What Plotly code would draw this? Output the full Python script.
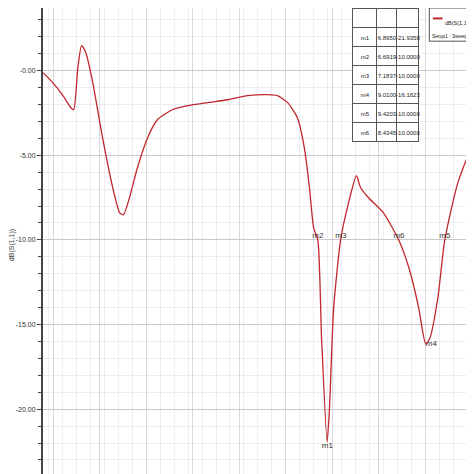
import plotly.graph_objects as go

# curve samples (GHz, dB)
freq = [0.78, 0.99, 1.21, 1.38, 1.44, 1.53, 1.61, 1.70, 1.85, 2.06, 2.28, 2.43, 2.51, 2.64,
        2.81, 3.03, 3.24, 3.56, 3.89, 4.32, 4.75, 5.18, 5.61, 5.82, 6.04, 6.25, 6.40, 6.51,
        6.60, 6.69, 6.77, 6.89, 6.94, 7.03, 7.18, 7.35, 7.52, 7.61, 7.78, 8.10, 8.43, 8.65,
        8.86, 9.01, 9.10, 9.27, 9.42, 9.70, 9.96, 10.22]
s11 = [-0.12, -0.71, -1.48, -2.19, -2.31, 0.18, 1.48, 1.07, -0.71, -3.96, -6.92, -8.40,
       -8.52, -7.51, -5.74, -3.96, -2.90, -2.31, -2.07, -1.89, -1.72, -1.48, -1.42, -1.48,
       -1.89, -2.78, -4.56, -6.92, -9.29, -10.00, -15.8, -21.94, -19.93, -14.03, -10.00,
       -7.81, -6.21, -6.92, -7.51, -8.40, -10.00, -11.66, -14.03, -16.16, -15.80, -13.43,
       -10.00, -6.63, -4.85, -4.26]

mk_name = ["m1", "m2", "m3", "m4", "m5", "m6"]
mk_x = [6.8950, 6.6919, 7.1837, 9.0100, 9.4203, 8.4345]
mk_y = [-21.9358, -10.0000, -10.0000, -16.1623, -10.0000, -10.0000]

fig = go.Figure()
fig.add_trace(go.Scatter(x=freq, y=s11, mode="lines", line=dict(color="#c0272d", width=1.3,
                         shape="spline", smoothing=0.6), showlegend=False))
fig.add_trace(go.Scatter(x=mk_x, y=mk_y, mode="text", text=mk_name,
                         textposition=["bottom center", "top center", "top center",
                                       "middle right", "top center", "top center"],
                         textfont=dict(size=8, color="#333"), showlegend=False))

fig.add_trace(go.Table(
    domain=dict(x=[0.706, 0.858], y=[0.71, 1.0]),
    columnwidth=[24, 20, 22],
    header=dict(values=["", "", ""], height=19, line_color="#555", fill_color="white"),
    cells=dict(values=[mk_name, ["%.4f" % v for v in mk_x], ["%.4f" % v for v in mk_y]],
               height=19, line_color="#555", fill_color="white",
               font=dict(size=6, color="#222"), align="center")))

fig.add_shape(type="rect", xref="paper", yref="paper", x0=0.88, x1=0.999, y0=0.93, y1=1.0,
              line=dict(color="#555", width=1), fillcolor="white")
fig.add_shape(type="line", xref="paper", yref="paper", x0=0.888, x1=0.91, y0=0.978, y1=0.978,
              line=dict(color="#c0272d", width=2))
fig.add_annotation(xref="paper", yref="paper", x=0.912, y=0.978, text="dB(S(1,1))",
                   showarrow=False, xanchor="left", font=dict(size=5.5, color="#222"))
fig.add_annotation(xref="paper", yref="paper", x=0.882, y=0.952, text="Setup1 : Sweep1",
                   showarrow=False, xanchor="left", font=dict(size=5, color="#222"))

ticks = [0, -5, -10, -15, -20]
fig.update_layout(
    width=474, height=474, margin=dict(l=35, r=0, t=0, b=0),
    plot_bgcolor="white", paper_bgcolor="white",
    font=dict(family="Liberation Sans Narrow, Arial", size=7, color="#333"),
    xaxis=dict(range=[0.78, 10.22], showticklabels=False, dtick=1, tick0=0,
               gridcolor="#d8d8d8", minor=dict(dtick=0.3, gridcolor="#eeeeee", showgrid=True),
               zeroline=False, automargin=False),
    yaxis=dict(range=[-24.3, 3.7], tickvals=ticks, ticktext=["-0.00", "-5.00", "-10.00", "-15.00", "-20.00"],
               ticks="outside", ticklen=4, showline=True, linecolor="#444", linewidth=2,
               gridcolor="#c8c8c8", zeroline=False, automargin=False,
               minor=dict(dtick=1, showgrid=True, gridcolor="#ececec", ticks="outside", ticklen=3),
               title=dict(text="dB(S(1,1))", font=dict(size=7), standoff=0)),
)
fig.write_html("out.html")
